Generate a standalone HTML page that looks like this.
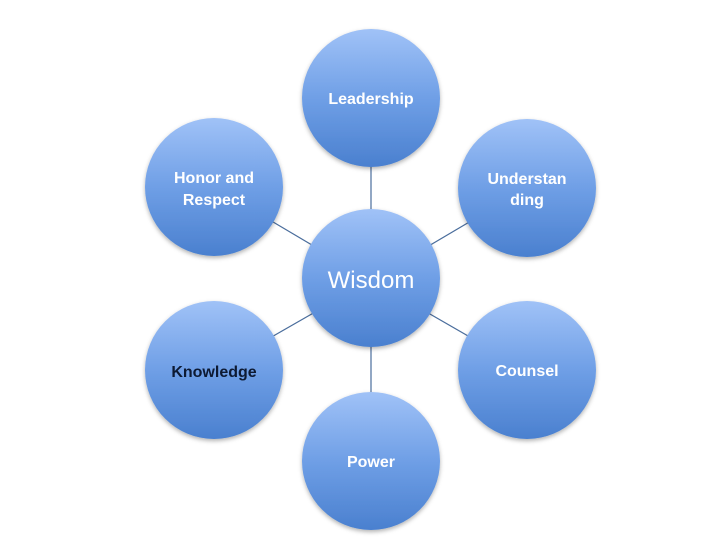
<!DOCTYPE html>
<html><head><style>
body{margin:0;background:#fff;}
svg{display:block;}
text{font-family:"Liberation Sans",sans-serif;font-weight:bold;fill:#fff;text-anchor:middle;font-size:16px;}
</style></head><body>
<svg width="720" height="540" viewBox="0 0 720 540">
<defs>
<linearGradient id="g" x1="0" y1="0" x2="0" y2="1">
<stop offset="0" stop-color="#a0c2f7"/>
<stop offset="0.5" stop-color="#6f9fe6"/>
<stop offset="1" stop-color="#4a80cf"/>
</linearGradient>
<filter id="s" x="-20%" y="-20%" width="140%" height="140%"><feDropShadow dx="0" dy="2" stdDeviation="2" flood-opacity="0.3"/></filter>
</defs>
<g stroke="#4a6d9c" stroke-width="1.2">
<line x1="371" y1="280" x2="371" y2="98"/>
<line x1="371" y1="280" x2="527" y2="188"/>
<line x1="371" y1="280" x2="527" y2="370"/>
<line x1="371" y1="280" x2="371" y2="461"/>
<line x1="371" y1="280" x2="214" y2="370"/>
<line x1="371" y1="280" x2="214" y2="187"/>
</g>
<g fill="url(#g)" filter="url(#s)">
<circle cx="371" cy="98" r="69"/>
<circle cx="527" cy="188" r="69"/>
<circle cx="527" cy="370" r="69"/>
<circle cx="371" cy="461" r="69"/>
<circle cx="214" cy="370" r="69"/>
<circle cx="214" cy="187" r="69"/>
<circle cx="371" cy="278" r="69"/>
</g>
<text x="371" y="104">Leadership</text>
<text x="527" y="184">Understan</text>
<text x="527" y="205">ding</text>
<text x="527" y="376">Counsel</text>
<text x="371" y="467">Power</text>
<text x="214" y="377" style="fill:#0d1a33">Knowledge</text>
<text x="214" y="183">Honor and</text>
<text x="214" y="205">Respect</text>
<text x="371" y="288" style="font-weight:normal;font-size:24px">Wisdom</text>
</svg>
</body></html>
